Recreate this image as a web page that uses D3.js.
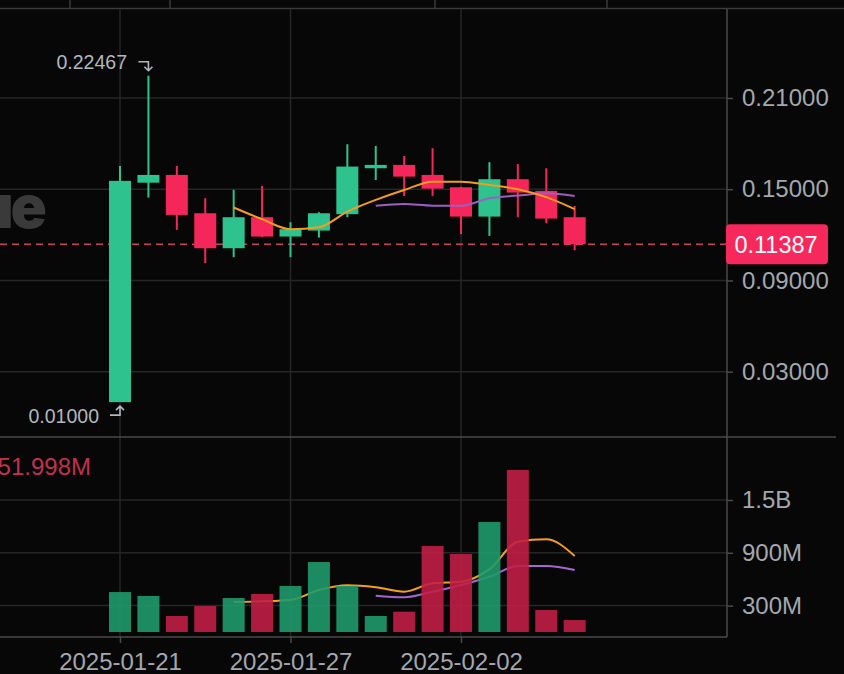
<!DOCTYPE html>
<html><head><meta charset="utf-8">
<script src="https://cdn.jsdelivr.net/npm/d3@7"></script>
<style>html,body{margin:0;padding:0;background:#070707;overflow:hidden}svg{display:block}</style>
</head><body><svg id="c" width="844" height="674"></svg>
<script>
// ---- data ----
const dates = ["2025-01-21","2025-01-22","2025-01-23","2025-01-24","2025-01-25","2025-01-26","2025-01-27","2025-01-28","2025-01-29","2025-01-30","2025-01-31","2025-02-01","2025-02-02","2025-02-03","2025-02-04","2025-02-05","2025-02-06"];
const opens  = [0.0100,0.1543,0.1594,0.1342,0.1112,0.1316,0.1189,0.1228,0.1336,0.1638,0.1660,0.1594,0.1513,0.1320,0.1566,0.1489,0.1316];
const highs  = [0.1653,0.22467,0.1653,0.1441,0.1496,0.1522,0.1283,0.1349,0.1796,0.1785,0.1719,0.1770,0.1517,0.1678,0.1666,0.1638,0.1390];
const lows   = [0.0100,0.1445,0.1233,0.1014,0.1053,0.1185,0.1053,0.1182,0.1316,0.1561,0.1456,0.1456,0.1206,0.1193,0.1316,0.1277,0.1099];
const closes = [0.1555,0.1594,0.1331,0.1112,0.1316,0.1189,0.1237,0.1342,0.1649,0.1660,0.1583,0.1504,0.1320,0.1566,0.1478,0.1307,0.11387];
const volumes = [454e6,409e6,182e6,295e6,386e6,432e6,523e6,795e6,523e6,182e6,231e6,977e6,886e6,1250e6,1841e6,250e6,136e6];
// moving averages
const priceMA5  = [null,null,null,null,0.1380,0.1303,0.1237,0.1250,0.1353,0.1430,0.1495,0.1550,0.1550,0.1528,0.1500,0.1448,0.1369];
const priceMA10 = [null,null,null,null,null,null,null,null,null,0.1392,0.1403,0.1392,0.1392,0.1441,0.1458,0.1474,0.1456];
const volMA5  = [null,null,null,null,341e6,349e6,364e6,477e6,530e6,508e6,458e6,553e6,572e6,712e6,1026e6,1053e6,864e6];
const volMA10 = [null,null,null,null,null,null,null,null,null,413e6,394e6,458e6,534e6,628e6,750e6,750e6,705e6];
const priceTicks = [0.21,0.15,0.09,0.03];
const volTicks = [300e6,900e6,1.5e9];
const volTickLabels = ["300M","900M","1.5B"];
const dateTicks = ["2025-01-21","2025-01-27","2025-02-02"];
const lastPrice = 0.11387;
const highLabel = "0.22467", lowLabel = "0.01000";
const volLabel = "151.998M";

// ---- setup ----
const svg = d3.select("#c");
const W = 844, H = 674;
const plotRight = 727;
const parse = d3.utcParse("%Y-%m-%d");
const x = d3.scaleUtc().domain([parse("2025-01-21"), parse("2025-02-02")]).range([120, 461]);
const y = d3.scaleLinear().domain([0.03, 0.21]).range([371.7, 98]);
const yv = d3.scaleLinear().domain([0, 1.5e9]).range([632, 500]);
const GREEN = "#2ec28e", RED = "#f5275a";
const GRID = "#262626", AXIS = "#4a4a4a", TXT = "#a3a7ae";
const FONT = "'Liberation Sans', Arial, Helvetica, sans-serif";
const bw = 22;
const data = dates.map((d,i)=>({d:parse(d),o:opens[i],h:highs[i],l:lows[i],c:closes[i],v:volumes[i]}));

svg.append("rect").attr("width",W).attr("height",H).attr("fill","#070707");

// top border + cropped ticks
svg.append("line").attr("x1",0).attr("x2",W).attr("y1",8.5).attr("y2",8.5).attr("stroke","#3a3a3a").attr("stroke-width",1.5);
[70,170,435,607].forEach(t=>svg.append("line").attr("x1",t).attr("x2",t).attr("y1",0).attr("y2",8).attr("stroke","#3a3a3a").attr("stroke-width",1.5));

// watermark
svg.append("text").attr("x",44).attr("y",228).attr("text-anchor","end").attr("font-family","Inter, Roboto, sans-serif")
  .attr("font-weight",900).attr("font-size",60).attr("letter-spacing",-3).attr("fill","#3a3a3a").text("ue");

// grids
const gp = svg.append("g");
priceTicks.forEach(t=>{
  gp.append("line").attr("x1",0).attr("x2",plotRight).attr("y1",y(t)).attr("y2",y(t)).attr("stroke",GRID).attr("stroke-width",1.5);
});
volTicks.forEach(t=>{
  gp.append("line").attr("x1",0).attr("x2",plotRight).attr("y1",yv(t)).attr("y2",yv(t)).attr("stroke",GRID).attr("stroke-width",1.5);
});
dateTicks.forEach(t=>{
  gp.append("line").attr("x1",x(parse(t))).attr("x2",x(parse(t))).attr("y1",9).attr("y2",637).attr("stroke",GRID).attr("stroke-width",1.5);
});

// axes lines
svg.append("line").attr("x1",plotRight).attr("x2",plotRight).attr("y1",9).attr("y2",637).attr("stroke",AXIS).attr("stroke-width",1.5);
svg.append("line").attr("x1",0).attr("x2",836).attr("y1",437).attr("y2",437).attr("stroke",AXIS).attr("stroke-width",1.5);
svg.append("line").attr("x1",0).attr("x2",plotRight).attr("y1",637).attr("y2",637).attr("stroke",AXIS).attr("stroke-width",1.5);

// price axis
const pa = svg.append("g").attr("transform",`translate(${plotRight},0)`)
  .call(d3.axisRight(y).tickValues(priceTicks).tickFormat(d3.format(".5f")).tickSize(6).tickPadding(9));
pa.select(".domain").remove();
pa.selectAll("line").attr("stroke",AXIS).attr("stroke-width",1.5);
pa.selectAll("text").attr("fill",TXT).attr("font-size",24).attr("font-family",FONT);

const va = svg.append("g").attr("transform",`translate(${plotRight},0)`)
  .call(d3.axisRight(yv).tickValues(volTicks).tickFormat((d,i)=>volTickLabels[i]).tickSize(6).tickPadding(9));
va.select(".domain").remove();
va.selectAll("line").attr("stroke",AXIS).attr("stroke-width",1.5);
va.selectAll("text").attr("fill",TXT).attr("font-size",24).attr("font-family",FONT);

const xa = svg.append("g").attr("transform","translate(0,637)")
  .call(d3.axisBottom(x).tickValues(dateTicks.map(parse)).tickFormat(d3.utcFormat("%Y-%m-%d")).tickSize(6).tickPadding(10));
xa.select(".domain").remove();
xa.selectAll("line").attr("stroke",AXIS).attr("stroke-width",1.5);
xa.selectAll("text").attr("fill",TXT).attr("font-size",24).attr("font-family",FONT);

// last price dashed line
svg.append("line").attr("x1",0).attr("x2",plotRight).attr("y1",y(lastPrice)).attr("y2",y(lastPrice))
  .attr("stroke","#c9435e").attr("stroke-width",1.5).attr("stroke-dasharray","7,5");

// candles
const cg = svg.append("g");
data.forEach(d=>{
  const col = d.c>=d.o?GREEN:RED;
  const cx = x(d.d);
  cg.append("line").attr("x1",cx).attr("x2",cx).attr("y1",y(d.h)).attr("y2",y(d.l)).attr("stroke",col).attr("stroke-width",2);
  const top = y(Math.max(d.o,d.c)), bot = y(Math.min(d.o,d.c));
  cg.append("rect").attr("x",cx-bw/2).attr("y",top).attr("width",bw).attr("height",Math.max(2,bot-top)).attr("fill",col);
});

// price MAs
const lineP = d3.line().defined(d=>d[1]!=null).x(d=>x(d[0])).y(d=>y(d[1])).curve(d3.curveMonotoneX);
svg.append("path").attr("d",lineP(data.map((d,i)=>[d.d,priceMA10[i]]))).attr("fill","none").attr("stroke","#9b5fc0").attr("stroke-width",2);
svg.append("path").attr("d",lineP(data.map((d,i)=>[d.d,priceMA5[i]]))).attr("fill","none").attr("stroke","#f39c1d").attr("stroke-width",2);

// volume MAs (under bars)
const lineV = d3.line().defined(d=>d[1]!=null).x(d=>x(d[0])).y(d=>yv(d[1])).curve(d3.curveMonotoneX);
svg.append("path").attr("d",lineV(data.map((d,i)=>[d.d,volMA10[i]]))).attr("fill","none").attr("stroke","#a467d0").attr("stroke-width",2);
svg.append("path").attr("d",lineV(data.map((d,i)=>[d.d,volMA5[i]]))).attr("fill","none").attr("stroke","#f7a01c").attr("stroke-width",2);

// volume bars
const vg = svg.append("g");
data.forEach(d=>{
  const col = d.c>=d.o?"#1f9a6c":"#c01f45";
  vg.append("rect").attr("x",x(d.d)-bw/2).attr("y",yv(d.v)).attr("width",bw).attr("height",yv(0)-yv(d.v)).attr("fill",col).attr("opacity",0.9);
});

// volume label
svg.append("text").attr("x",91).attr("y",475).attr("text-anchor","end").attr("font-family",FONT).attr("font-size",24).attr("fill","#c3304e").text(volLabel);

// last price badge
const by = y(lastPrice);
svg.append("rect").attr("x",726).attr("y",by-20).attr("width",102).attr("height",40).attr("rx",4).attr("fill","#f7295c");
svg.append("text").attr("x",776).attr("y",by+8.5).attr("text-anchor","middle").attr("font-family",FONT).attr("font-size",23.5).attr("fill","#ffffff").text(d3.format(".5f")(lastPrice));

// high/low markers
const hi = data[1], lo = data[0];
const hx = x(hi.d), hy = y(hi.h);
svg.append("text").attr("x",127).attr("y",hy-7).attr("text-anchor","end").attr("font-family",FONT).attr("font-size",19.5).attr("fill","#b3b7be").text(highLabel);
svg.append("path").attr("d",`M${hx-10},${hy-14}H${hx}V${hy-5}M${hx-4},${hy-9}L${hx},${hy-5}L${hx+4},${hy-9}`).attr("fill","none").attr("stroke","#b3b7be").attr("stroke-width",1.6);
const lx = x(lo.d), ly = y(lo.l);
svg.append("text").attr("x",99).attr("y",ly+21).attr("text-anchor","end").attr("font-family",FONT).attr("font-size",19.5).attr("fill","#b3b7be").text(lowLabel);
svg.append("path").attr("d",`M${lx-10},${ly+13}H${lx}V${ly+4}M${lx-4},${ly+8}L${lx},${ly+4}L${lx+4},${ly+8}`).attr("fill","none").attr("stroke","#b3b7be").attr("stroke-width",1.6);
</script></body></html>
